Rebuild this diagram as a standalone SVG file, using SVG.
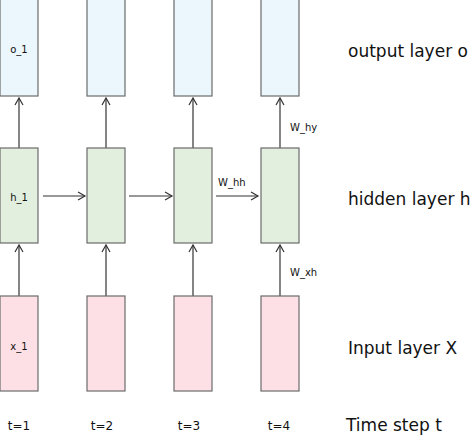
<svg xmlns="http://www.w3.org/2000/svg" width="474" height="446" viewBox="0 0 474 446">
<style>
.o{fill:#ebf7fd;stroke:#6b6b6b;stroke-width:1.2}
.h{fill:#e2efde;stroke:#6b6b6b;stroke-width:1.2}
.x{fill:#fde0e6;stroke:#6b6b6b;stroke-width:1.2}
.c line{stroke:#333;stroke-width:1.2;marker-end:url(#a)}
text{font-family:"DejaVu Sans","Liberation Sans",sans-serif;fill:#111}
.s{font-size:10px}
.l{font-size:17px}
.t{font-size:12px}
</style>
<defs>
<marker id="a" markerWidth="10" markerHeight="10" refX="8" refY="5" orient="auto" markerUnits="userSpaceOnUse">
<path d="M1,1 L8,5 L1,9" fill="none" stroke="#333" stroke-width="1.2"/>
</marker>
</defs>
<rect width="474" height="446" fill="#fff"/>
<g class="c">
<line x1="19" y1="148" x2="19" y2="98"/>
<line x1="106" y1="148" x2="106" y2="98"/>
<line x1="193" y1="148" x2="193" y2="98"/>
<line x1="280" y1="148" x2="280" y2="98"/>
<line x1="19" y1="296" x2="19" y2="245"/>
<line x1="106" y1="296" x2="106" y2="245"/>
<line x1="193" y1="296" x2="193" y2="245"/>
<line x1="280" y1="296" x2="280" y2="245"/>
<line x1="43" y1="196" x2="85" y2="196"/>
<line x1="129" y1="196" x2="172" y2="196"/>
<line x1="216" y1="196" x2="258" y2="196"/>
</g>
<g id="o1"><rect class="o" x="0" y="-2" width="38" height="98"/><text class="s" x="19" y="53" text-anchor="middle">o_1</text></g>
<g id="o2"><rect class="o" x="87" y="-2" width="38" height="98"/></g>
<g id="o3"><rect class="o" x="174" y="-2" width="38" height="98"/></g>
<g id="o4"><rect class="o" x="261" y="-2" width="38" height="98"/></g>
<g id="h1"><rect class="h" x="0" y="148" width="38" height="95"/><text class="s" x="19" y="201" text-anchor="middle">h_1</text></g>
<g id="h2"><rect class="h" x="87" y="148" width="38" height="95"/></g>
<g id="h3"><rect class="h" x="174" y="148" width="38" height="95"/></g>
<g id="h4"><rect class="h" x="261" y="148" width="38" height="95"/></g>
<g id="x1"><rect class="x" x="0" y="296" width="38" height="95"/><text class="s" x="19" y="350" text-anchor="middle">x_1</text></g>
<g id="x2"><rect class="x" x="87" y="296" width="38" height="95"/></g>
<g id="x3"><rect class="x" x="174" y="296" width="38" height="95"/></g>
<g id="x4"><rect class="x" x="261" y="296" width="38" height="95"/></g>
<g id="weights">
<text class="s" x="290" y="131">W_hy</text>
<text class="s" x="218" y="186">W_hh</text>
<text class="s" x="290" y="276">W_xh</text>
</g>
<g id="labels">
<text class="l" x="348" y="57">output layer o</text>
<text class="l" x="348" y="205">hidden layer h</text>
<text class="l" x="348" y="354">Input layer X</text>
<text class="l" x="346" y="431">Time step t</text>
</g>
<g id="times">
<text class="t" x="19" y="430" text-anchor="middle">t=1</text>
<text class="t" x="102" y="430" text-anchor="middle">t=2</text>
<text class="t" x="189" y="430" text-anchor="middle">t=3</text>
<text class="t" x="279" y="430" text-anchor="middle">t=4</text>
</g>
</svg>
